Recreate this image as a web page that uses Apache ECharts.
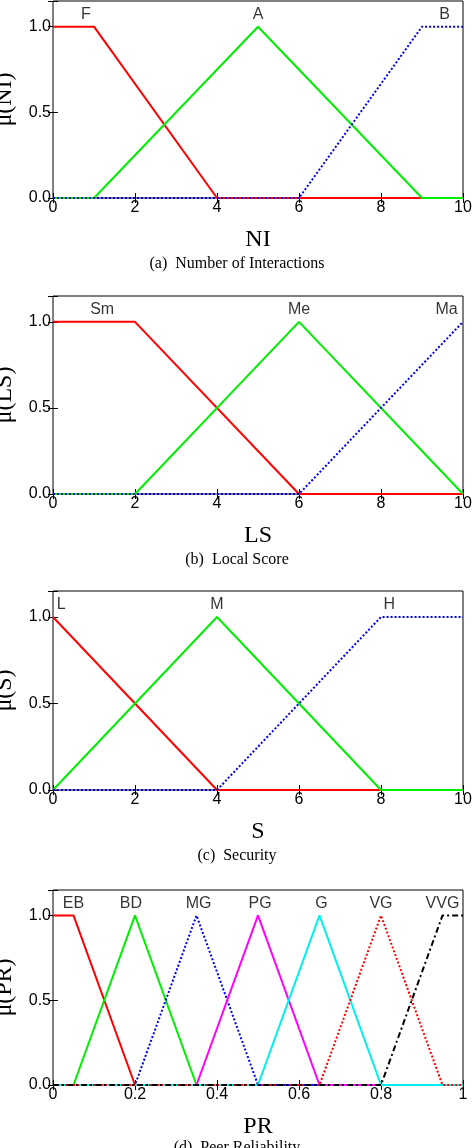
<!DOCTYPE html>
<html>
<head>
<meta charset="utf-8">
<script src="https://cdn.jsdelivr.net/npm/echarts@6/dist/echarts.min.js"></script>
<style>
  html, body { margin: 0; padding: 0; background: #fff; }
  #chart { width: 474px; height: 1148px; }
</style>
</head>
<body>
<div id="chart"></div>
<script>
// (a) Number of Interactions
const niF = [[0, 1], [1, 1], [4, 0], [10, 0]]
const niA = [[0, 0], [1, 0], [5, 1], [9, 0], [10, 0]]
const niB = [[0, 0], [6, 0], [9, 1], [10, 1]]
const niLabels = [['F', 0.8], ['A', 5], ['B', 9.55]]

// (b) Local Score
const lsSm = [[0, 1], [2, 1], [6, 0], [10, 0]]
const lsMe = [[0, 0], [2, 0], [6, 1], [10, 0]]
const lsMa = [[0, 0], [6, 0], [10, 1]]
const lsLabels = [['Sm', 1.2], ['Me', 6], ['Ma', 9.6]]

// (c) Security
const sL = [[0, 1], [4, 0], [10, 0]]
const sM = [[0, 0], [4, 1], [8, 0], [10, 0]]
const sH = [[0, 0], [4, 0], [8, 1], [10, 1]]
const sLabels = [['L', 0.2], ['M', 4], ['H', 8.2]]

// (d) Peer Reliability
const prEB = [[0, 1], [0.05, 1], [0.2, 0], [1, 0]]
const prBD = [[0, 0], [0.05, 0], [0.2, 1], [0.35, 0], [1, 0]]
const prMG = [[0, 0], [0.2, 0], [0.35, 1], [0.5, 0], [1, 0]]
const prPG = [[0, 0], [0.35, 0], [0.5, 1], [0.65, 0], [1, 0]]
const prG = [[0, 0], [0.5, 0], [0.65, 1], [0.8, 0], [1, 0]]
const prVG = [[0, 0], [0.65, 0], [0.8, 1], [0.95, 0], [1, 0]]
const prVVG = [[0, 0], [0.8, 0], [0.95, 1], [1, 1]]
const prLabels = [['EB', 0.05], ['BD', 0.19], ['MG', 0.355], ['PG', 0.505], ['G', 0.655], ['VG', 0.8], ['VVG', 0.95]]

const panels = [
  { top: 1, bottom: 198, xmax: 10, xint: 2, name: 'NI', ylab: 'μ(NI)', caption: '(a)  Number of Interactions',
    series: [[niF, '#ff0000', 'solid'], [niA, '#00ee00', 'solid'], [niB, '#0000ee', 'dotted']], labels: niLabels },
  { top: 296, bottom: 494, xmax: 10, xint: 2, name: 'LS', ylab: 'μ(LS)', caption: '(b)  Local Score',
    series: [[lsSm, '#ff0000', 'solid'], [lsMe, '#00ee00', 'solid'], [lsMa, '#0000ee', 'dotted']], labels: lsLabels },
  { top: 591, bottom: 790, xmax: 10, xint: 2, name: 'S', ylab: 'μ(S)', caption: '(c)  Security',
    series: [[sL, '#ff0000', 'solid'], [sM, '#00ee00', 'solid'], [sH, '#0000ee', 'dotted']], labels: sLabels },
  { top: 890, bottom: 1085, xmax: 1, xint: 0.2, name: 'PR', ylab: 'μ(PR)', caption: '(d)  Peer Reliability',
    series: [[prEB, '#ff0000', 'solid'], [prBD, '#00ee00', 'solid'], [prMG, '#0000ee', 'dotted'],
      [prPG, '#ff00ff', 'solid'], [prG, '#00eeee', 'solid'], [prVG, '#ff0000', 'dotted'],
      [prVVG, '#000000', [6, 3, 2, 3]]], labels: prLabels }
]

const H = 1148
const grid = [], xAxis = [], yAxis = [], series = [], graphic = []
panels.forEach((p, i) => {
  grid.push({ left: 53, right: 11, top: p.top, bottom: H - p.bottom, show: true, borderColor: '#000', borderWidth: 1,
    containLabel: false, outerBoundsMode: 'none' })
  const tickFmt = v => (p.xmax === 1 ? (v === 0 || v === 1 ? String(v) : v.toFixed(1)) : String(v))
  xAxis.push({ type: 'value', gridIndex: i, min: 0, max: p.xmax, interval: p.xint,
    axisLine: { show: false }, axisTick: { inside: true, length: 5, lineStyle: { color: '#000' } },
    splitLine: { show: false },
    axisLabel: { color: '#000', fontSize: 16, fontFamily: 'Liberation Sans', margin: 2, formatter: tickFmt },
    name: p.name, nameLocation: 'middle', nameGap: 30,
    nameTextStyle: { fontFamily: 'Liberation Serif', fontSize: 24, color: '#000' } })
  xAxis.push({ type: 'value', gridIndex: i, min: 0, max: p.xmax, interval: p.xint, position: 'top',
    axisLine: { show: false }, axisTick: { inside: true, length: 5, lineStyle: { color: '#000' } },
    axisLabel: { show: false }, splitLine: { show: false } })
  yAxis.push({ type: 'value', gridIndex: i, min: 0, max: 1.15, interval: 0.5,
    axisLine: { show: false }, axisTick: { inside: true, length: 5, lineStyle: { color: '#000' } },
    splitLine: { show: false },
    axisLabel: { color: '#000', fontSize: 16, fontFamily: 'Liberation Sans', margin: 2,
      formatter: v => (v > 1.1 ? '' : v.toFixed(1)) },
    name: p.ylab, nameLocation: 'middle', nameGap: 36,
    nameTextStyle: { fontFamily: 'Liberation Serif', fontSize: 24, color: '#000' } })
  yAxis.push({ type: 'value', gridIndex: i, min: 0, max: 1.15, interval: 0.5, position: 'right',
    axisLine: { show: false }, axisTick: { inside: true, length: 5, lineStyle: { color: '#000' } },
    axisLabel: { show: false }, splitLine: { show: false } })
  p.series.forEach(s => {
    series.push({ type: 'line', xAxisIndex: 2 * i, yAxisIndex: 2 * i, data: s[0], symbol: 'none',
      lineStyle: { color: s[1], width: 2, type: s[2] }, animation: false, z: 3 })
  })
  series.push({ type: 'scatter', xAxisIndex: 2 * i, yAxisIndex: 2 * i, symbolSize: 0, silent: true,
    data: p.labels.map(l => ({ value: [l[1], 1.07], name: l[0] })),
    label: { show: true, position: 'inside', formatter: '{b}', color: '#000', fontSize: 16,
      fontFamily: 'Liberation Sans' }, animation: false })
  graphic.push({ type: 'text', left: 'center', top: p.bottom + (i === 3 ? 55 : 58),
    style: { text: p.caption, fontFamily: 'Liberation Serif', fontSize: 16, fill: '#000' } })
})

const chart = echarts.init(document.getElementById('chart'))
chart.setOption({ backgroundColor: '#fff', animation: false, grid, xAxis, yAxis, series, graphic })
</script>
</body>
</html>
